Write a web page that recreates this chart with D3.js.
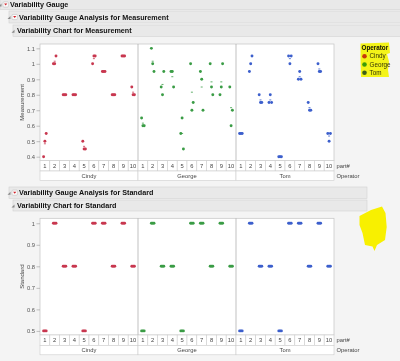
<!DOCTYPE html>
<html>
<head>
<meta charset="utf-8">
<script src="https://cdn.jsdelivr.net/npm/d3@7"></script>
<style>
body { margin: 0; background: #f4f4f4; }
text { font-family: "Liberation Sans", Arial, sans-serif; }
</style>
</head>
<body>
<script>

// data
var operators = ["Cindy", "George", "Tom"];
var parts = ["1", "2", "3", "4", "5", "6", "7", "8", "9", "10"];
var opColors = ["#c8374f", "#3a9c45", "#3c5fcc"];

// 3 replicates per part
var cindyMeasurement = [[0.4, 0.5, 0.55], [1.0, 1.0, 1.05], [0.8, 0.8, 0.8], [0.8, 0.8, 0.8], [0.5, 0.45, 0.45],
    [1.0, 1.05, 1.05], [0.95, 0.95, 0.95], [0.8, 0.8, 0.8], [1.05, 1.05, 1.05], [0.85, 0.8, 0.8]];
var georgeMeasurement = [[0.65, 0.6, 0.6], [1.1, 1.0, 0.95], [0.85, 0.8, 0.95], [0.95, 0.95, 0.85], [0.55, 0.65, 0.45],
    [1.0, 0.7, 0.75], [0.95, 0.9, 0.7], [1.0, 0.85, 0.8], [0.8, 0.85, 1.0], [0.85, 0.6, 0.7]];
var tomMeasurement = [[0.55, 0.55, 0.55], [0.95, 1.0, 1.05], [0.8, 0.75, 0.75], [0.75, 0.8, 0.75], [0.4, 0.4, 0.4],
    [1.05, 1.0, 1.05], [0.9, 0.95, 0.9], [0.75, 0.7, 0.7], [1.0, 0.95, 0.95], [0.55, 0.5, 0.55]];

var cindyStandard = [0.5, 1, 0.8, 0.8, 0.5, 1, 1, 0.8, 1, 0.8];
var georgeStandard = [0.5, 1, 0.8, 0.8, 0.5, 1, 1, 0.8, 1, 0.8];
var tomStandard = [0.5, 1, 0.8, 0.8, 0.5, 1, 1, 0.8, 1, 0.8];

var measureTicks = [0.4, 0.5, 0.6, 0.7, 0.8, 0.9, 1, 1.1];
var standardTicks = [0.5, 0.6, 0.7, 0.8, 0.9, 1];

var svg = d3.select("body").append("svg")
    .attr("width", 400)
    .attr("height", 361);

svg.append("rect").attr("width", 400).attr("height", 361).attr("fill", "#f4f4f4");

var xOp = d3.scaleBand().domain(operators).range([40, 334]);
var xPart = d3.scaleBand().domain(parts).range([0, xOp.bandwidth()]);
var xRep = d3.scalePoint().domain([0, 1, 2]).range([-1.3, 1.3]);

// outline headers
var header = function(x, y, w, h, label, hotspot) {
    svg.append("rect")
        .attr("x", x).attr("y", y).attr("width", w).attr("height", h)
        .attr("fill", "#e9e9e9").attr("stroke", "#d2d2d2").attr("stroke-width", 0.6);
    var tx = x + 4;
    if (hotspot) {
        svg.append("rect")
            .attr("x", x + 3).attr("y", y + h / 2 - 2.6).attr("width", 5.4).attr("height", 5.2)
            .attr("rx", 1).attr("fill", "#fbfbfb").attr("stroke", "#b8b8b8").attr("stroke-width", 0.5);
        svg.append("path")
            .attr("d", "M" + (x + 4.1) + "," + (y + h / 2 - 1) + "h3.2l-1.6,2z")
            .attr("fill", "#d1232b");
        tx = x + 10;
    }
    // disclosure triangle
    svg.append("path")
        .attr("d", "M" + (x - 1.5) + "," + (y + h / 2 + 2) + "l3,0l0,-3z")
        .attr("fill", "#8a8a8a");
    svg.append("text")
        .attr("x", tx).attr("y", y + h / 2 + 2.5)
        .attr("font-size", "7.2px").attr("font-weight", "bold").attr("fill", "#111")
        .text(label);
};

header(0, -0.5, 401, 10, "Variability Gauge", true);
header(9, 11, 392, 12, "Variability Gauge Analysis for Measurement", true);
header(13, 25, 388, 11.5, "Variability Chart for Measurement", false);
header(9, 187, 358, 11.3, "Variability Gauge Analysis for Standard", true);
header(13, 200, 354, 11, "Variability Chart for Standard", false);

var drawChart = function(top, bottom, domain, ticks, yTitle, series, showMeans) {
    var y = d3.scaleLinear().domain(domain).range([bottom, top]);
    var g = svg.append("g");

    g.append("rect")
        .attr("x", 40).attr("y", top).attr("width", 294).attr("height", bottom - top)
        .attr("fill", "#fff").attr("stroke", "#c4c4c4").attr("stroke-width", 0.7);

    g.selectAll(".sep")
        .data(operators.slice(1))
        .enter().append("line")
        .attr("x1", function(d) { return xOp(d); })
        .attr("x2", function(d) { return xOp(d); })
        .attr("y1", top).attr("y2", bottom)
        .attr("stroke", "#a8a8a8").attr("stroke-width", 0.7);

    // y axis
    var ya = g.append("g").attr("transform", "translate(40,0)")
        .call(d3.axisLeft(y).tickValues(ticks).tickSize(3.5).tickPadding(1.5).tickFormat(d3.format("")));
    ya.select(".domain").remove();
    ya.selectAll("line").attr("stroke", "#9a9a9a").attr("stroke-width", 0.6);
    ya.selectAll("text").attr("font-size", "5.8px").attr("fill", "#555")
        .style("font-family", "Liberation Sans, Arial, sans-serif");

    g.append("text")
        .attr("transform", "translate(24," + ((top + bottom) / 2) + ") rotate(-90)")
        .attr("text-anchor", "middle")
        .attr("font-size", "6px").attr("fill", "#444")
        .text(yTitle);

    // part# row and operator row
    var row1 = bottom, row2 = bottom + 10.3, row3 = bottom + 19.8;
    operators.forEach(function(op) {
        var cells = g.append("g").attr("transform", "translate(" + xOp(op) + ",0)");
        cells.selectAll("rect")
            .data(parts)
            .enter().append("rect")
            .attr("x", function(d) { return xPart(d); })
            .attr("y", row1).attr("width", xPart.bandwidth()).attr("height", row2 - row1)
            .attr("fill", "#fff").attr("stroke", "#cdcdcd").attr("stroke-width", 0.6);
        cells.selectAll("text")
            .data(parts)
            .enter().append("text")
            .attr("x", function(d) { return xPart(d) + xPart.bandwidth() / 2; })
            .attr("y", row2 - 3)
            .attr("text-anchor", "middle")
            .attr("font-size", "5.8px").attr("fill", "#444")
            .text(function(d) { return d; });
        g.append("rect")
            .attr("x", xOp(op)).attr("y", row2).attr("width", xOp.bandwidth()).attr("height", row3 - row2)
            .attr("fill", "#fff").attr("stroke", "#cdcdcd").attr("stroke-width", 0.6);
        g.append("text")
            .attr("x", xOp(op) + xOp.bandwidth() / 2).attr("y", row3 - 2.8)
            .attr("text-anchor", "middle")
            .attr("font-size", "5.8px").attr("fill", "#444")
            .text(op);
    });
    g.append("text").attr("x", 336.5).attr("y", row2 - 3.2)
        .attr("font-size", "5.8px").attr("fill", "#444").text("part#");
    g.append("text").attr("x", 336.5).attr("y", row3 - 3)
        .attr("font-size", "5.8px").attr("fill", "#444").text("Operator");

    // points
    series.forEach(function(vals, k) {
        var op = operators[k];
        var pts = [];
        vals.forEach(function(reps, p) {
            reps.forEach(function(v, r) { pts.push({part: parts[p], rep: r, v: v}); });
        });
        var cx = function(d) { return xOp(op) + xPart(d.part) + xPart.bandwidth() / 2; };
        if (showMeans) {
            g.selectAll(".mean" + k)
                .data(vals)
                .enter().append("line")
                .attr("x1", function(d, i) { return xOp(op) + xPart(parts[i]) + xPart.bandwidth() / 2 - 1; })
                .attr("x2", function(d, i) { return xOp(op) + xPart(parts[i]) + xPart.bandwidth() / 2 + 1; })
                .attr("y1", function(d) { return y(d3.mean(d)); })
                .attr("y2", function(d) { return y(d3.mean(d)); })
                .attr("stroke", opColors[k]).attr("stroke-width", 0.8);
        }
        g.selectAll(".pt" + k)
            .data(pts)
            .enter().append("circle")
            .attr("cx", function(d) { return cx(d) + xRep(d.rep); })
            .attr("cy", function(d) { return y(d.v); })
            .attr("r", 1.45)
            .attr("fill", opColors[k]);
    });
};

drawChart(44, 160.7, [0.374, 1.128], measureTicks, "Measurement",
    [cindyMeasurement, georgeMeasurement, tomMeasurement], true);

var toReps = function(arr) { return arr.map(function(v) { return [v, v, v]; }); };
drawChart(218.3, 335, [0.481, 1.023], standardTicks, "Standard",
    [toReps(cindyStandard), toReps(georgeStandard), toReps(tomStandard)], false);

// legend
var leg = svg.append("g");
leg.append("text").attr("x", 361.5).attr("y", 50.3)
    .attr("font-size", "6.3px").attr("font-weight", "bold").attr("fill", "#111").text("Operator");
leg.selectAll("circle")
    .data(operators)
    .enter().append("circle")
    .attr("cx", 364.5)
    .attr("cy", function(d, i) { return 56.3 + i * 8.2; })
    .attr("r", 2.3)
    .attr("fill", function(d, i) { return opColors[i]; });
leg.selectAll(".lab")
    .data(operators)
    .enter().append("text")
    .attr("x", 369.5)
    .attr("y", function(d, i) { return 58.4 + i * 8.2; })
    .attr("font-size", "6.3px").attr("fill", "#333")
    .text(function(d) { return d; });

// highlighter marks
svg.append("path")
    .attr("d", "M360.5,43.5L389,42.5L390,53L387,54L389,61.5L388,70L389,77L361,77L360.5,60z")
    .attr("fill", "#ffff00").attr("opacity", 0.9)
    .style("mix-blend-mode", "multiply");
svg.append("path")
    .attr("d", "M359.5,216L371,210L382,206.5L385.5,213L386.7,227L385,240L377,245L374.5,251L372.5,246.5L365,245L362.5,233L359.5,225z")
    .attr("fill", "#f8f000");

</script>
</body>
</html>
